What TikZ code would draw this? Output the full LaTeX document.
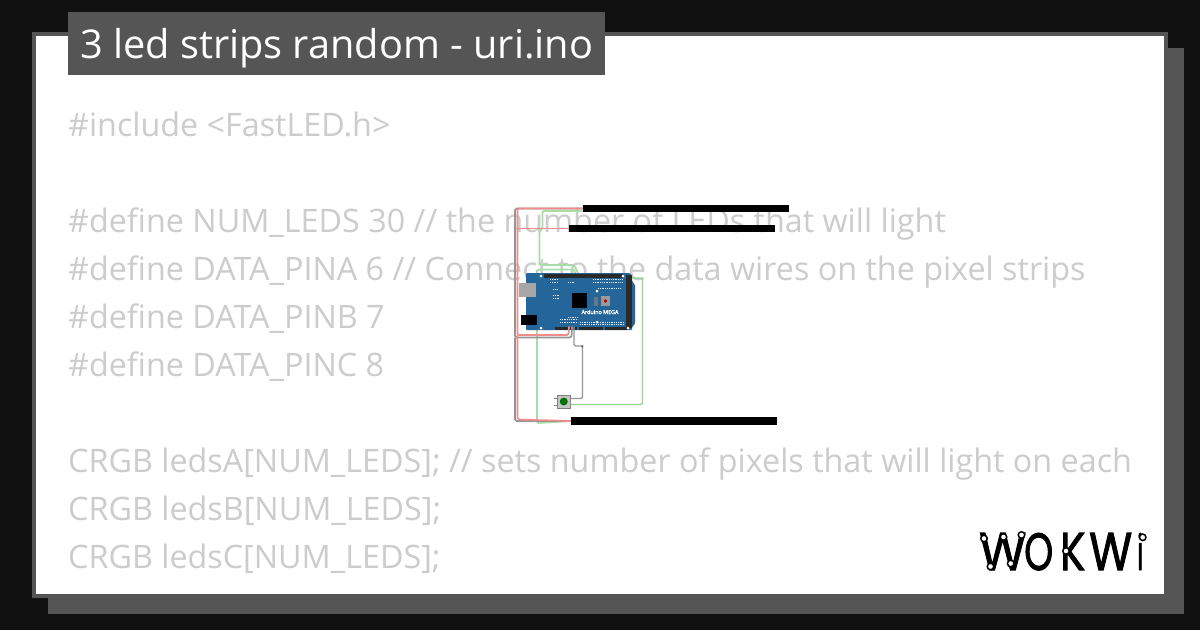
\documentclass[tikz,border=0pt]{standalone}
\usepackage{fontspec}
\usepackage{graphicx}
\setmainfont{Open Sans}
\newfontfamily\titlefont{Open Sans}
\newfontfamily\logofont[RawFeature={embolden=2}]{Poppins}
\newfontfamily\megafont[RawFeature={embolden=2.5}]{Noto Sans}
\definecolor{bgdark}{HTML}{111111}
\definecolor{framegray}{HTML}{555555}
\definecolor{codegray}{HTML}{CCCCCC}
\definecolor{boardblue}{HTML}{25669A}
\definecolor{hdr}{HTML}{2A2A2A}
\definecolor{wirered}{HTML}{F28C8C}
\definecolor{wiregray}{HTML}{959595}
\definecolor{wiregreen}{HTML}{A8DCA8}
\newcommand{\logoletter}[2]{\resizebox{#1pt}{37pt}{#2}}
\tikzset{
  codeline/.style={anchor=base west,inner sep=0pt,text=codegray,font=\fontsize{32.3}{32}\selectfont},
  strip/.style={fill=black,draw=none,inner sep=0pt,minimum width=206pt,minimum height=7.4pt},
  wire/.style={line width=1.7pt,rounded corners=1.5pt},
  redwire/.style={wire,draw=wirered},
  graywire/.style={wire,draw=wiregray},
  greenwire/.style={wire,draw=wiregreen,line width=1.9pt},
  header/.style={fill=hdr,draw=none},
  hole/.style={fill=white,draw=none,circle,inner sep=0pt,minimum size=3pt},
  silk/.style={draw=white!85!boardblue,line width=.6pt,dash pattern=on 1pt off .8pt},
  logodot/.style={circle,draw=black,fill=white,line width=1.5pt,inner sep=0pt,minimum size=6.5pt},
}
\begin{document}
\begin{tikzpicture}[x=1pt,y=-1pt]
\useasboundingbox (0,0) rectangle (1200,630);
\fill[bgdark] (0,0) rectangle (1200,630);
\fill[framegray] (48,48) rectangle (1184,614);
\fill[framegray] (32,32) rectangle (1168,598);
\fill[white] (36,36) rectangle (1164,594);
\fill[framegray] (68,12) rectangle (605,75);
\node[anchor=base west,inner sep=0pt,text=white,font=\titlefont\fontsize{39.7}{40}\selectfont] (title) at (80,58) {3 led strips random - uri.ino};
% code
\node[codeline] (c1) at (68,136) {\#include <FastLED.h>};
\node[codeline] (c2) at (68,232) {\#define NUM\_LEDS 30 // the number of LEDs that will light};
\node[codeline] (c3) at (68,280) {\#define DATA\_PINA 6 // Connect to the data wires on the pixel strips};
\node[codeline] (c4) at (68,328) {\#define DATA\_PINB 7};
\node[codeline] (c5) at (68,376) {\#define DATA\_PINC 8};
\node[codeline] (c6) at (68,472) {CRGB ledsA[NUM\_LEDS]; // sets number of pixels that will light on each};
\node[codeline] (c7) at (68,520) {CRGB ledsB[NUM\_LEDS];};
\node[codeline] (c8) at (68,568) {CRGB ledsC[NUM\_LEDS];};
% strips and button nodes first, so that wires can name them
\node[strip,anchor=west] (s1) at (582.7,208.5) {};
\node[strip,anchor=west] (s2) at (568.7,228.5) {};
\node[strip,anchor=west] (s3) at (570.7,421) {};
\draw[gray,line width=.8pt] (554,398) -- (557,398) (554,405) -- (557,405);
\node[draw=gray,fill=gray!45,line width=.8pt,inner sep=0pt,minimum size=13pt] (btn) at (563.8,401.5) {};
\fill[green!45!black] (btn.center) circle (4);
% pin coordinates
\coordinate (p5v) at (569,326.5);
\coordinate (pgnd) at (572,326.5);
\coordinate (pbtn) at (574,326.5);
\coordinate (pa) at (578,273);
\coordinate (pb) at (575,273);
\coordinate (pc) at (632,278);
% wires behind the board
\draw[greenwire] (s1.west) ++(0,2.5) -- (542.5,211) -- (542.5,228.5) -- (539.5,231) -- (539.5,265) -- (574,265) -- (pa);
\draw[greenwire] (pb) -- (574,269.5) -- (537,269.5) -- (537,423) -- (s3.west);
% board
\fill[boardblue,rounded corners=1pt] (526,273) -- (630,273) -- (632,276) -- (632,281) -- (635,285) -- (635,324) -- (632,327) -- (632,330) -- (526,330) -- cycle;
\fill[gray!70] (519,283) rectangle (536,297);
\fill[black] (521,315) rectangle (537,325);
\fill[black] (572,293) rectangle (587,308);
\fill[header] (544,274) rectangle (623,277.5);
\fill[header] (625.5,275) rectangle (631.5,328);
\fill[header] (555,326.5) rectangle (577,329.5);
\fill[header] (579,326.5) rectangle (603,329.5);
\fill[header] (604.5,326.5) rectangle (628,329.5);
\fill[gray!80] (601,296) rectangle (610,306);
\fill[red!75!black] (605.5,301) circle (1.9);
\fill[gray!70!boardblue] (594,297) rectangle (598,306);
\foreach \p in {(541,276),(541,328),(597,291),(597,322),(623,276),(628,328)} \node[hole] at \p {};
\draw[silk] (550,279) -- (558,279) (550,282) -- (558,282) (568,282) -- (574,282) (593,279) -- (622,279) (593,282) -- (622,282) (598,288) -- (620,288);
\draw[silk] (553,289) -- (558,289) (553,295) -- (560,295) (553,298) -- (560,298);
\draw[silk] (560,319) -- (578,319) (560,322) -- (578,322) (580,324) -- (624,324) (580,322) -- (624,322) (568,317) -- (578,317);
\node[inner sep=0pt,text=white,font=\megafont\fontsize{5.4}{5.4}\selectfont] (mega) at (600,312) {Arduino MEGA};
% wires
\draw[graywire] (s1.west) -- (515,208.5) -- (515,337.5) -- (571.5,337.5) -- (pgnd);
\draw[graywire] (s2.west) -- (515,228.5);
\draw[graywire] (515,337.5) -- (515,421) -- (s3.west);
\draw[redwire] (s1.west) -- (517.5,208.5) -- (517.5,335) -- (568.5,335) -- (p5v);
\draw[redwire] (s2.west) -- (517.5,228.5);
\draw[redwire] (517.5,335) -- (517.5,419.5) -- (s3.west);
\draw[wire,draw=green!45!gray!60,line width=1.2pt] (pc) -- (642.5,278) -- (642.5,404.5) -- (btn.east |- 0,404.5);
\draw[graywire,line width=1.1pt] (pbtn) -- (574,346) -- (582.5,346) -- (582.5,398.5) -- (btn.east |- 0,398.5);
\fill[black!70] (582.5,346) circle (1);
\fill[black] (s1.south west) rectangle (s1.north east);
\fill[black] (s2.south west) rectangle (s2.north east);
\fill[black] (s3.south west) rectangle (s3.north east);
% logo
\node[anchor=base west,inner sep=0pt,text=black,font=\logofont\fontsize{50}{50}\selectfont] (logo) at (979,570) {\logoletter{47}{W}\hspace{-2pt}\logoletter{29}{O}\hspace{7pt}\logoletter{25}{K}\hspace{4pt}\logoletter{43}{W}\hspace{5pt}\logoletter{6}{i}};
\foreach \p in {(984,538.5),(1003.5,537),(1021.5,535),(990.5,566.5),(1010.7,563.5),(1066,551),(1142.7,537.3)} \node[logodot] at \p {};
\end{tikzpicture}
\end{document}
